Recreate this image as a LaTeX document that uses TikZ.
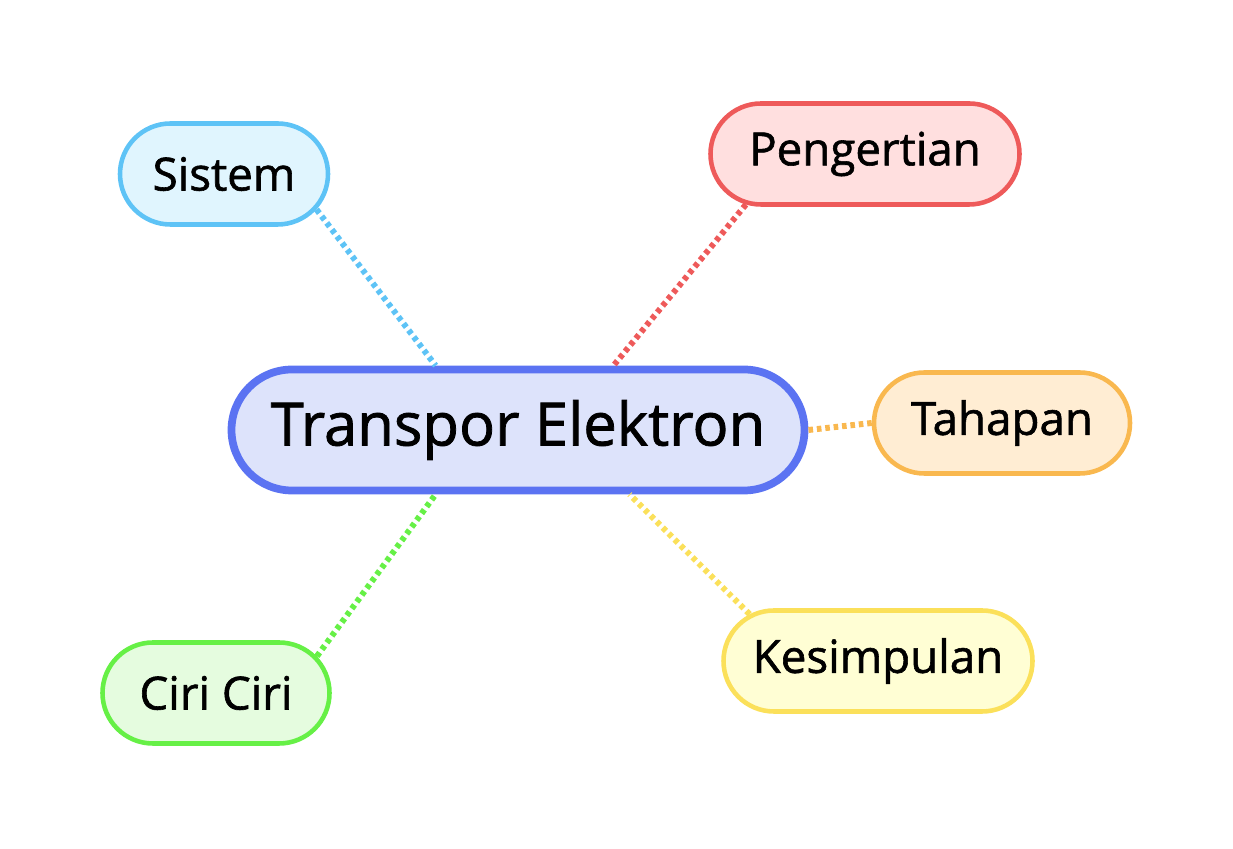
\documentclass[tikz,border=0pt]{standalone}
\usepackage{fontspec}
\setmainfont{Open Sans}
\newfontfamily\notefont{Open Sans}[FakeBold=1.3]
\usepackage{xcolor}
\definecolor{mainline}{HTML}{5B73F2}
\definecolor{mainfill}{HTML}{DDE3FB}
\definecolor{skyline}{HTML}{5EC3F6}
\definecolor{skyfill}{HTML}{E0F5FE}
\definecolor{redline}{HTML}{EE5A5A}
\definecolor{redfill}{HTML}{FFDFDF}
\definecolor{orangeline}{HTML}{F9B84F}
\definecolor{orangefill}{HTML}{FFEDD3}
\definecolor{yellowline}{HTML}{FBE05A}
\definecolor{yellowfill}{HTML}{FFFED4}
\definecolor{greenline}{HTML}{66F046}
\definecolor{greenfill}{HTML}{E5FCDF}
\usepackage{tikz}
\usetikzlibrary{shapes.misc,positioning}

\begin{document}
\begin{tikzpicture}[
  pill/.style={rounded rectangle, draw=#1line, fill=#1fill,
    line width=1.3pt, minimum height=1.01cm, inner sep=0pt,
    font=\notefont\fontsize{13}{15}\selectfont},
  topic/.style={rounded rectangle, draw=mainline, fill=mainfill,
    line width=2.2pt, minimum height=1.21cm, inner sep=0pt,
    font=\notefont\fontsize{17}{20}\selectfont},
  link/.style={draw=#1line, line width=1.7pt, dash pattern=on 1.3pt off 1.1pt}
  ]
  \useasboundingbox (0,0) rectangle (12.33,8.49);

  % centre
  \node [topic, minimum width=5.73cm] (main) at (5.18,4.19) {Transpor Elektron};

  % branches
  \node [pill=sky, minimum width=2.08cm] (sistem) at (2.24,6.75) {Sistem};
  \node [pill=red, minimum width=3.09cm] (pengertian) at (8.65,6.95) {Pengertian};
  \node [pill=orange, minimum width=2.56cm] (tahapan) at (10.02,4.26) {Tahapan};
  \node [pill=yellow, minimum width=3.09cm] (kesimpulan) at (8.78,1.88) {Kesimpulan};
  \node [pill=green, minimum width=2.27cm] (ciri) at (2.16,1.56) {Ciri Ciri};

  % connectors
  \draw [link=sky] (sistem.-21) -- (main.142);
  \draw [link=red] (pengertian.-157) -- (main.34);
  \draw [link=orange] (tahapan.west) -- (main.east);
  \draw [link=yellow] (kesimpulan.160) -- (main.-30);
  \draw [link=green] (ciri.20) -- (main.-142);

\end{tikzpicture}
\end{document}
